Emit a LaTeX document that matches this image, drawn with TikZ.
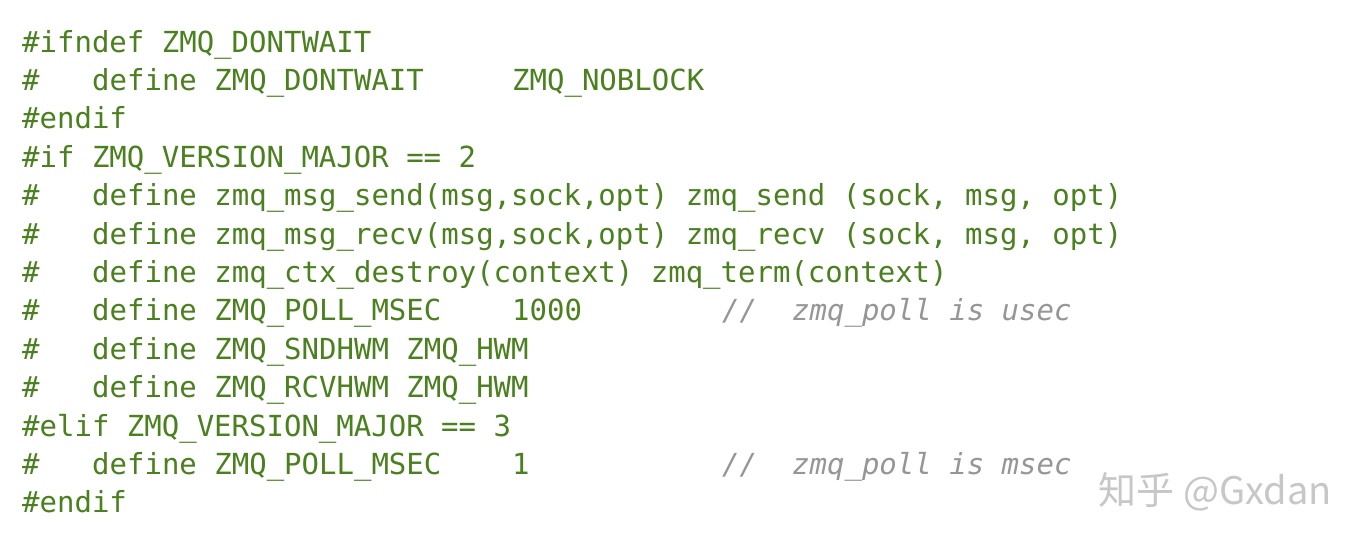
\documentclass[tikz,border=0pt]{standalone}
\usepackage{fontspec}
\setmonofont{DejaVu Sans Mono}
\newfontfamily\cjk{Noto Sans CJK SC}
\definecolor{codegreen}{RGB}{74,128,30}
\definecolor{cmtgray}{RGB}{150,150,150}
\tikzset{code/.style={anchor=base west,inner sep=0,text=codegreen,font=\fontsize{29}{29}\selectfont\ttfamily},
cmt/.style={code,text=cmtgray,font=\fontsize{29}{29}\selectfont\ttfamily\itshape}}
\newcommand\cl[3]{\node[code] (l#1c#2) at ({22+#2*17.5pt},{-52-#1*38.4pt}) {#3};}
\newcommand\cc[3]{\node[cmt] (m#1c#2) at ({22+#2*17.5pt},{-52-#1*38.4pt}) {#3};}
\begin{document}
\begin{tikzpicture}[x=1pt,y=1pt]
\useasboundingbox[fill=white] (0,0) rectangle (1366,-546);
\cl{0}{0}{\#ifndef ZMQ\_DONTWAIT}
\cl{1}{0}{\#}\cl{1}{4}{define ZMQ\_DONTWAIT}\cl{1}{28}{ZMQ\_NOBLOCK}
\cl{2}{0}{\#endif}
\cl{3}{0}{\#if ZMQ\_VERSION\_MAJOR == 2}
\cl{4}{0}{\#}\cl{4}{4}{define zmq\_msg\_send(msg,sock,opt) zmq\_send (sock, msg, opt)}
\cl{5}{0}{\#}\cl{5}{4}{define zmq\_msg\_recv(msg,sock,opt) zmq\_recv (sock, msg, opt)}
\cl{6}{0}{\#}\cl{6}{4}{define zmq\_ctx\_destroy(context) zmq\_term(context)}
\cl{7}{0}{\#}\cl{7}{4}{define ZMQ\_POLL\_MSEC}\cl{7}{28}{1000}\cc{7}{40}{//}\cc{7}{44}{zmq\_poll is usec}
\cl{8}{0}{\#}\cl{8}{4}{define ZMQ\_SNDHWM ZMQ\_HWM}
\cl{9}{0}{\#}\cl{9}{4}{define ZMQ\_RCVHWM ZMQ\_HWM}
\cl{10}{0}{\#elif ZMQ\_VERSION\_MAJOR == 3}
\cl{11}{0}{\#}\cl{11}{4}{define ZMQ\_POLL\_MSEC}\cl{11}{28}{1}\cc{11}{40}{//}\cc{11}{44}{zmq\_poll is msec}
\cl{12}{0}{\#endif}
\node[anchor=base east,inner sep=0,text=black!22,font=\fontsize{38}{38}\selectfont\cjk] (wm) at (1332,-504) {知乎 @Gxdan};
\end{tikzpicture}
\end{document}
